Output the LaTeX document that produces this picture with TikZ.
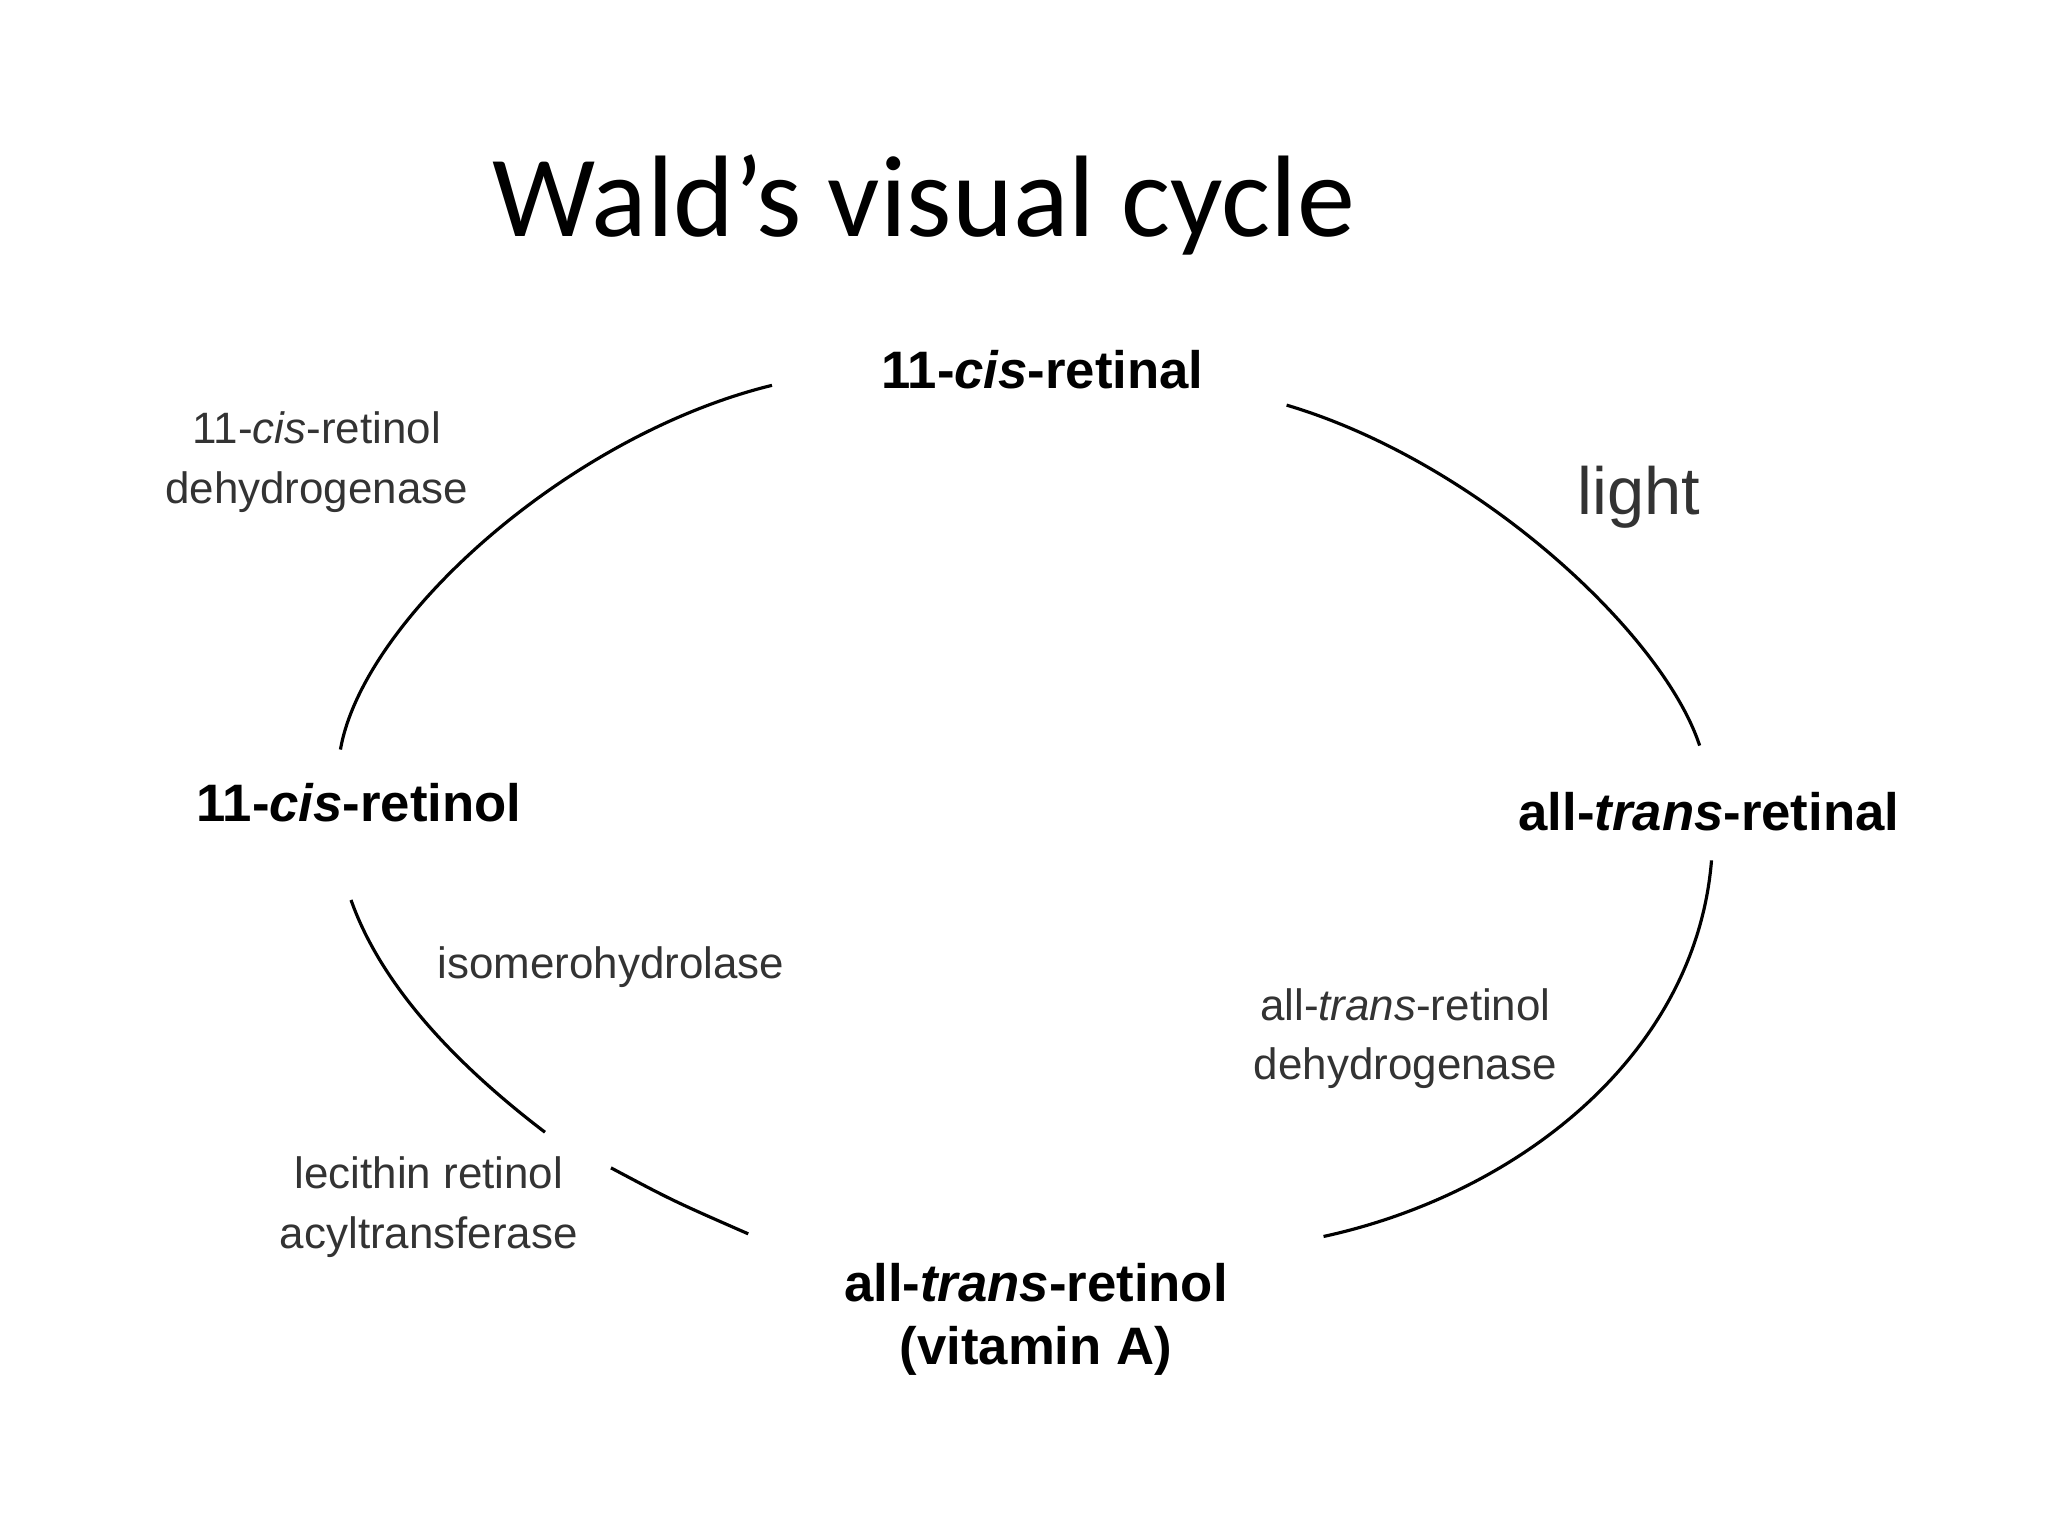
\documentclass[tikz,border=0pt]{standalone}
\usepackage{fontspec}
\setmainfont{Liberation Sans}
\newfontfamily\titlefont{Carlito}
\begin{document}
\begin{tikzpicture}[x=0.0132cm,y=-0.0132cm,
  chem/.style={font=\fontsize{15}{18}\selectfont\bfseries, align=center},
  enz/.style={font=\fontsize{12.5}{17}\selectfont, align=center, text=black!80},
  arc/.style={line width=0.9pt}]
\useasboundingbox (0,0) rectangle (1552,1164);
\node[font=\titlefont\fontsize{33}{40}\selectfont] (title) at (700,155) {Wald’s visual cycle};
\node[chem] (a) at (790,280) {11-\textit{cis}-retinal};
\node[chem] (b) at (272,608) {11-\textit{cis}-retinol};
\node[chem] (c) at (1295,615) {all-\textit{trans}-retinal};
\node[chem] (d) at (785,1000) {all-\textit{trans}-retinol\\(vitamin A)};
\node[enz] (e1) at (240,350) {11-\textit{cis}-retinol\\dehydrogenase};
\node[enz, font=\fontsize{19}{22}\selectfont] (e2) at (1242,377) {light};
\node[enz] (e3) at (463,733) {isomerohydrolase};
\node[enz] (e4) at (325,915) {lecithin retinol\\acyltransferase};
\node[enz] (e5) at (1065,787) {all-\textit{trans}-retinol\\dehydrogenase};
\coordinate (p1) at (585,292); \coordinate (q1) at (258,568);
\coordinate (p2) at (975,307); \coordinate (q2) at (1288,565);
\coordinate (p3) at (1297,652); \coordinate (q3) at (1003,937);
\coordinate (p4) at (266,682); \coordinate (q4) at (413,858);
\coordinate (p5) at (463,885); \coordinate (q5) at (567,935);
\draw[arc] (p1) .. controls (430,330) and (275,470) .. (q1);
\draw[arc] (p2) .. controls (1120,350) and (1260,480) .. (q2);
\draw[arc] (p3) .. controls (1285,800) and (1150,905) .. (q3);
\draw[arc] (p4) .. controls (290,750) and (350,810) .. (q4);
\draw[arc] (p5) .. controls (510,910) .. (q5);
\end{tikzpicture}
\end{document}
